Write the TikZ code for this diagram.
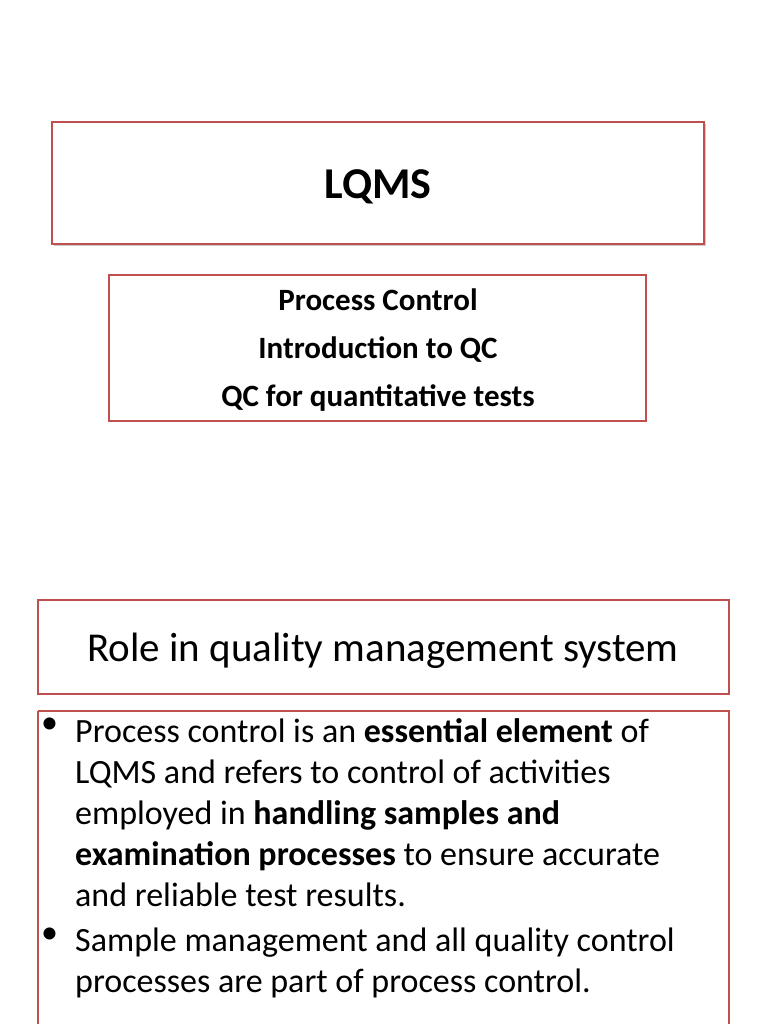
\documentclass[tikz,border=0pt]{standalone}
\usepackage{fontspec}
\setmainfont{Carlito}
\definecolor{boxred}{RGB}{192,80,77}
\begin{document}
\begin{tikzpicture}[x=1pt,y=-1pt,
  redbox/.style={draw=boxred,line width=1.3pt},
  body/.style={inner sep=0pt,align=left,anchor=north west,font=\fontsize{34}{41}\selectfont}]
\useasboundingbox (0,0) rectangle (768,1024);
\fill[white] (0,0) rectangle (768,1024);
\fill[gray!40] (54,124) rectangle (706,246);
\draw[redbox,fill=white] (52,122) rectangle (704,244);
\node[inner sep=0pt,font=\fontsize{44}{48}\selectfont\bfseries] (t1) at (378,187) {LQMS};
\draw[redbox] (109,275) rectangle (646,421);
\node[inner sep=0pt,align=center,font=\fontsize{31}{48}\selectfont\bfseries] (t2) at (378,350) {Process Control\\Introduction to QC\\QC for quantitative tests};
\draw[redbox] (38,600) rectangle (729,694);
\node[inner sep=0pt,font=\fontsize{41}{46}\selectfont] (t3) at (383,651) {Role in quality management system};
\draw[redbox] (38,711) -- (729,711) -- (729,1030);
\draw[redbox] (38,711) -- (38,1030);
\node[body] (b1) at (75,718) {Process control is an \textbf{essential element} of\\LQMS and refers to control of activities\\employed in \textbf{handling samples and}\\\textbf{examination processes} to ensure accurate\\and reliable test results.};
\node[body] (b2) at (75,928) {Sample management and all quality control\\processes are part of process control.};
\node[body] (d1) at (41,718) {\textbullet};
\node[body] (d2) at (41,928) {\textbullet};
\end{tikzpicture}
\end{document}
